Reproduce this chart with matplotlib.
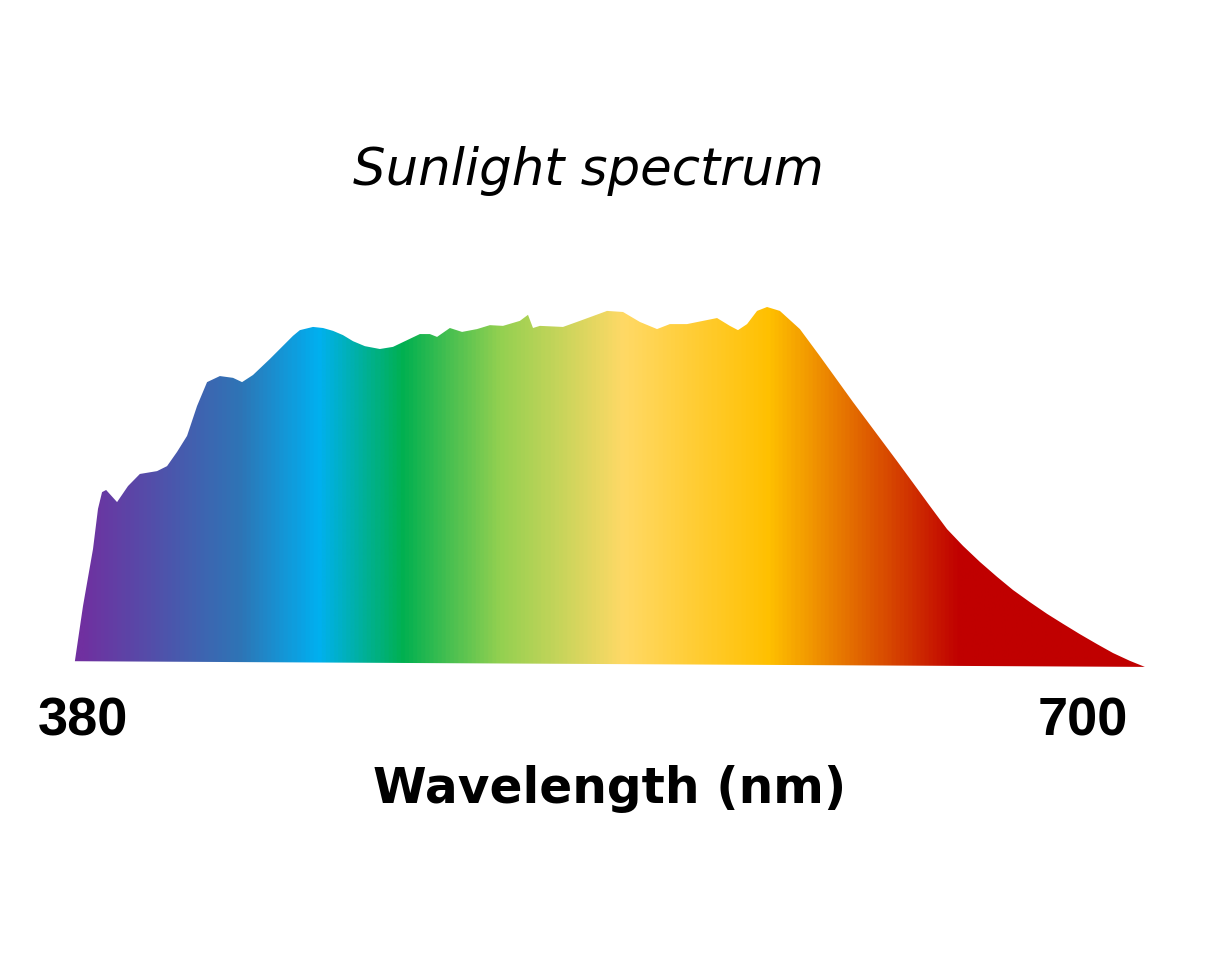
import numpy as np
import matplotlib
matplotlib.use("Agg")
import matplotlib.pyplot as plt
from matplotlib.colors import LinearSegmentedColormap
from matplotlib.patches import Polygon

# Outline of the sunlight spectrum (nm, relative intensity)
wavelength = [377.4, 380.0, 383.2, 384.8, 386.1, 387.4, 390.9, 394.4, 398.2, 403.7,
              406.9, 410.1, 413.3, 416.5, 419.7, 423.8, 428.0, 430.9, 434.4, 439.8,
              447.2, 449.4, 453.6, 456.8, 460.0, 463.2, 466.4, 470.2, 475.0, 479.2,
              487.8, 491.0, 493.3, 497.4, 501.3, 506.1, 510.2, 514.4, 519.8, 522.4,
              524.0, 526.2, 533.6, 539.0, 547.7, 552.8, 558.2, 563.7, 567.8, 573.3,
              582.9, 587.0, 589.6, 592.5, 595.7, 598.9, 603.0, 609.4, 615.8, 626.4,
              640.5, 645.6, 651.0, 656.5, 661.6, 667.0, 672.5, 677.6, 683.0, 688.5,
              693.6, 699.0, 704.5, 709.6, 715.0, 719.8]
intensity = [0.005, 0.160, 0.320, 0.433, 0.480, 0.486, 0.452, 0.497, 0.531, 0.539,
             0.553, 0.593, 0.638, 0.722, 0.789, 0.806, 0.801, 0.789, 0.809, 0.854,
             0.919, 0.935, 0.944, 0.941, 0.933, 0.921, 0.904, 0.890, 0.882, 0.888,
             0.924, 0.924, 0.916, 0.941, 0.930, 0.938, 0.949, 0.947, 0.961, 0.978,
             0.941, 0.947, 0.944, 0.961, 0.989, 0.986, 0.958, 0.938, 0.952, 0.952,
             0.969, 0.947, 0.935, 0.952, 0.989, 1.000, 0.989, 0.938, 0.862, 0.733,
             0.567, 0.506, 0.441, 0.376, 0.329, 0.284, 0.242, 0.205, 0.171, 0.138,
             0.110, 0.081, 0.053, 0.028, 0.006, -0.011]

# colour stops along the wavelength axis
stop_nm = [379, 430, 455, 482, 513, 553, 600, 661, 720]
stop_colors = ["#7030a0", "#2e75b6", "#00b0f0", "#00b050", "#92d050",
               "#ffd966", "#ffc000", "#c00000", "#c00000"]

tick_values = [380, 700]
title = "Sunlight spectrum"
xlabel = "Wavelength (nm)"

fig = plt.figure(figsize=(12.13, 9.70), dpi=100)
ax = fig.add_axes([0, 0, 1, 1])
ax.set_xlim(353.44, 741.6)
ax.set_ylim(-0.8596, 1.8652)
ax.axis("off")

lo, hi = stop_nm[0], stop_nm[-1]
cmap = LinearSegmentedColormap.from_list(
    "spectrum", [((n - lo) / (hi - lo), c) for n, c in zip(stop_nm, stop_colors)])

poly = Polygon(np.column_stack([wavelength, intensity]), closed=True,
               facecolor="none", edgecolor="none")
ax.add_patch(poly)

# horizontal gradient, clipped to the spectrum outline
x0, x1 = 374, 723
grad = np.linspace(x0, x1, 800).reshape(1, -1)
img = ax.imshow(grad, cmap=cmap, vmin=lo, vmax=hi, aspect="auto",
                interpolation="bilinear", extent=[x0, x1, -0.05, 1.05], zorder=1)
img.set_clip_path(poly)

for v in tick_values:
    ax.text(v, -0.202, str(v), ha="center", va="baseline", fontsize=39,
            fontweight="bold", family="Liberation Sans")

ax.text(548.6, -0.390, xlabel, ha="center", va="baseline", fontsize=35,
        fontweight="bold", family="DejaVu Sans")
ax.text(541.6, 1.346, title, ha="center", va="baseline", fontsize=37,
        style="italic", family="DejaVu Sans")

fig.savefig("out.png", dpi=100)
